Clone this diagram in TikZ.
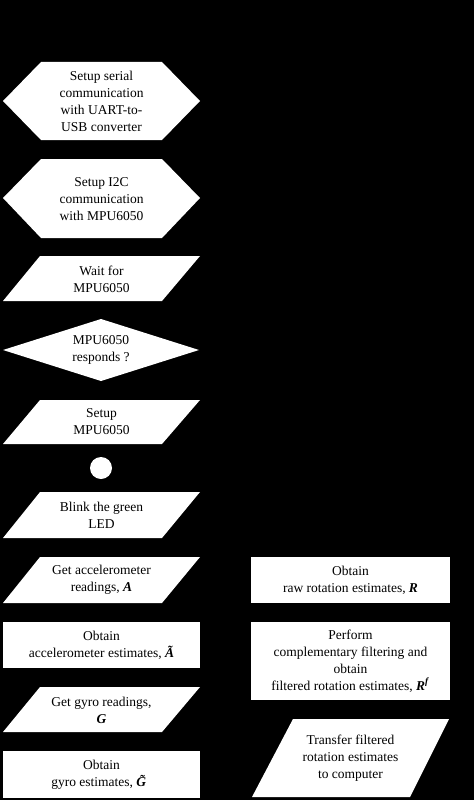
\documentclass[tikz,border=0pt]{standalone}
\usepackage{fontspec}
\setmainfont{Liberation Serif}
\begin{document}
\begin{tikzpicture}[x=1pt,y=-1pt,
  shapefill/.style={fill=white,draw=none},
  lbl/.style={align=center,inner sep=0pt,text=black,font=\fontsize{13.5}{17}\selectfont}]
\newcommand{\bim}[1]{\textbf{\textit{#1}}}
\fill[black] (0,0) rectangle (474,800);
\useasboundingbox (0,0) rectangle (474,800);
% left column shapes
\fill[shapefill] (3,101) -- (41,62) -- (162,62) -- (200,101) -- (162,140) -- (41,140) -- cycle;
\fill[shapefill] (3,198) -- (41,159) -- (162,159) -- (200,198) -- (162,238) -- (41,238) -- cycle;
\fill[shapefill] (40,256) -- (200,256) -- (162,301) -- (3,301) -- cycle;
\fill[shapefill] (3,350) -- (101,319) -- (199,350) -- (101,381) -- cycle;
\fill[shapefill] (40,400) -- (200,400) -- (162,444) -- (3,444) -- cycle;
\fill[shapefill] (101,468) circle[radius=11];
\fill[shapefill] (40,492) -- (200,492) -- (162,538) -- (3,538) -- cycle;
\fill[shapefill] (40,557) -- (200,557) -- (162,603) -- (3,603) -- cycle;
\fill[shapefill] (3,622) rectangle (200,668);
\fill[shapefill] (40,687) -- (200,687) -- (162,732) -- (3,732) -- cycle;
\fill[shapefill] (3,751) rectangle (200,798);
% right column shapes
\fill[shapefill] (251,557) rectangle (450,603);
\fill[shapefill] (251,622) rectangle (450,700);
\fill[shapefill] (293,719) -- (449,719) -- (410,797) -- (252,797) -- cycle;
% texts
\node[lbl] (serial) at (101.5,101) {Setup serial\\communication\\with UART-to-\\USB converter};
\node[lbl] (i2c) at (101.5,199) {Setup I2C\\communication\\with MPU6050};
\node[lbl] (wait) at (101.5,279) {Wait for\\MPU6050};
\node[lbl] (resp) at (101,350) {MPU6050\\responds ?};
\node[lbl] (setup) at (101.5,422) {Setup\\MPU6050};
\node[lbl] (blink) at (101.5,515) {Blink the green\\LED};
\node[lbl] (acc) at (101.5,580) {Get accelerometer\\readings, \bim{A}};
\node[lbl] (accest) at (101.5,645) {Obtain\\accelerometer estimates, \bim{\~{A}}};
\node[lbl] (gyr) at (101.5,710) {Get gyro readings,\\\bim{G}};
\node[lbl] (gyrest) at (101.5,775) {Obtain\\gyro estimates, \bim{\~{G}}};
\node[lbl] (raw) at (350.5,580) {Obtain\\raw rotation estimates, \bim{R}};
\node[lbl] (comp) at (350.5,661) {Perform\\complementary filtering and\\obtain\\filtered rotation estimates, \bim{R}\textsuperscript{\bim{f}}};
\node[lbl] (xfer) at (350.5,758) {Transfer filtered\\rotation estimates\\to computer};
\end{tikzpicture}
\end{document}
